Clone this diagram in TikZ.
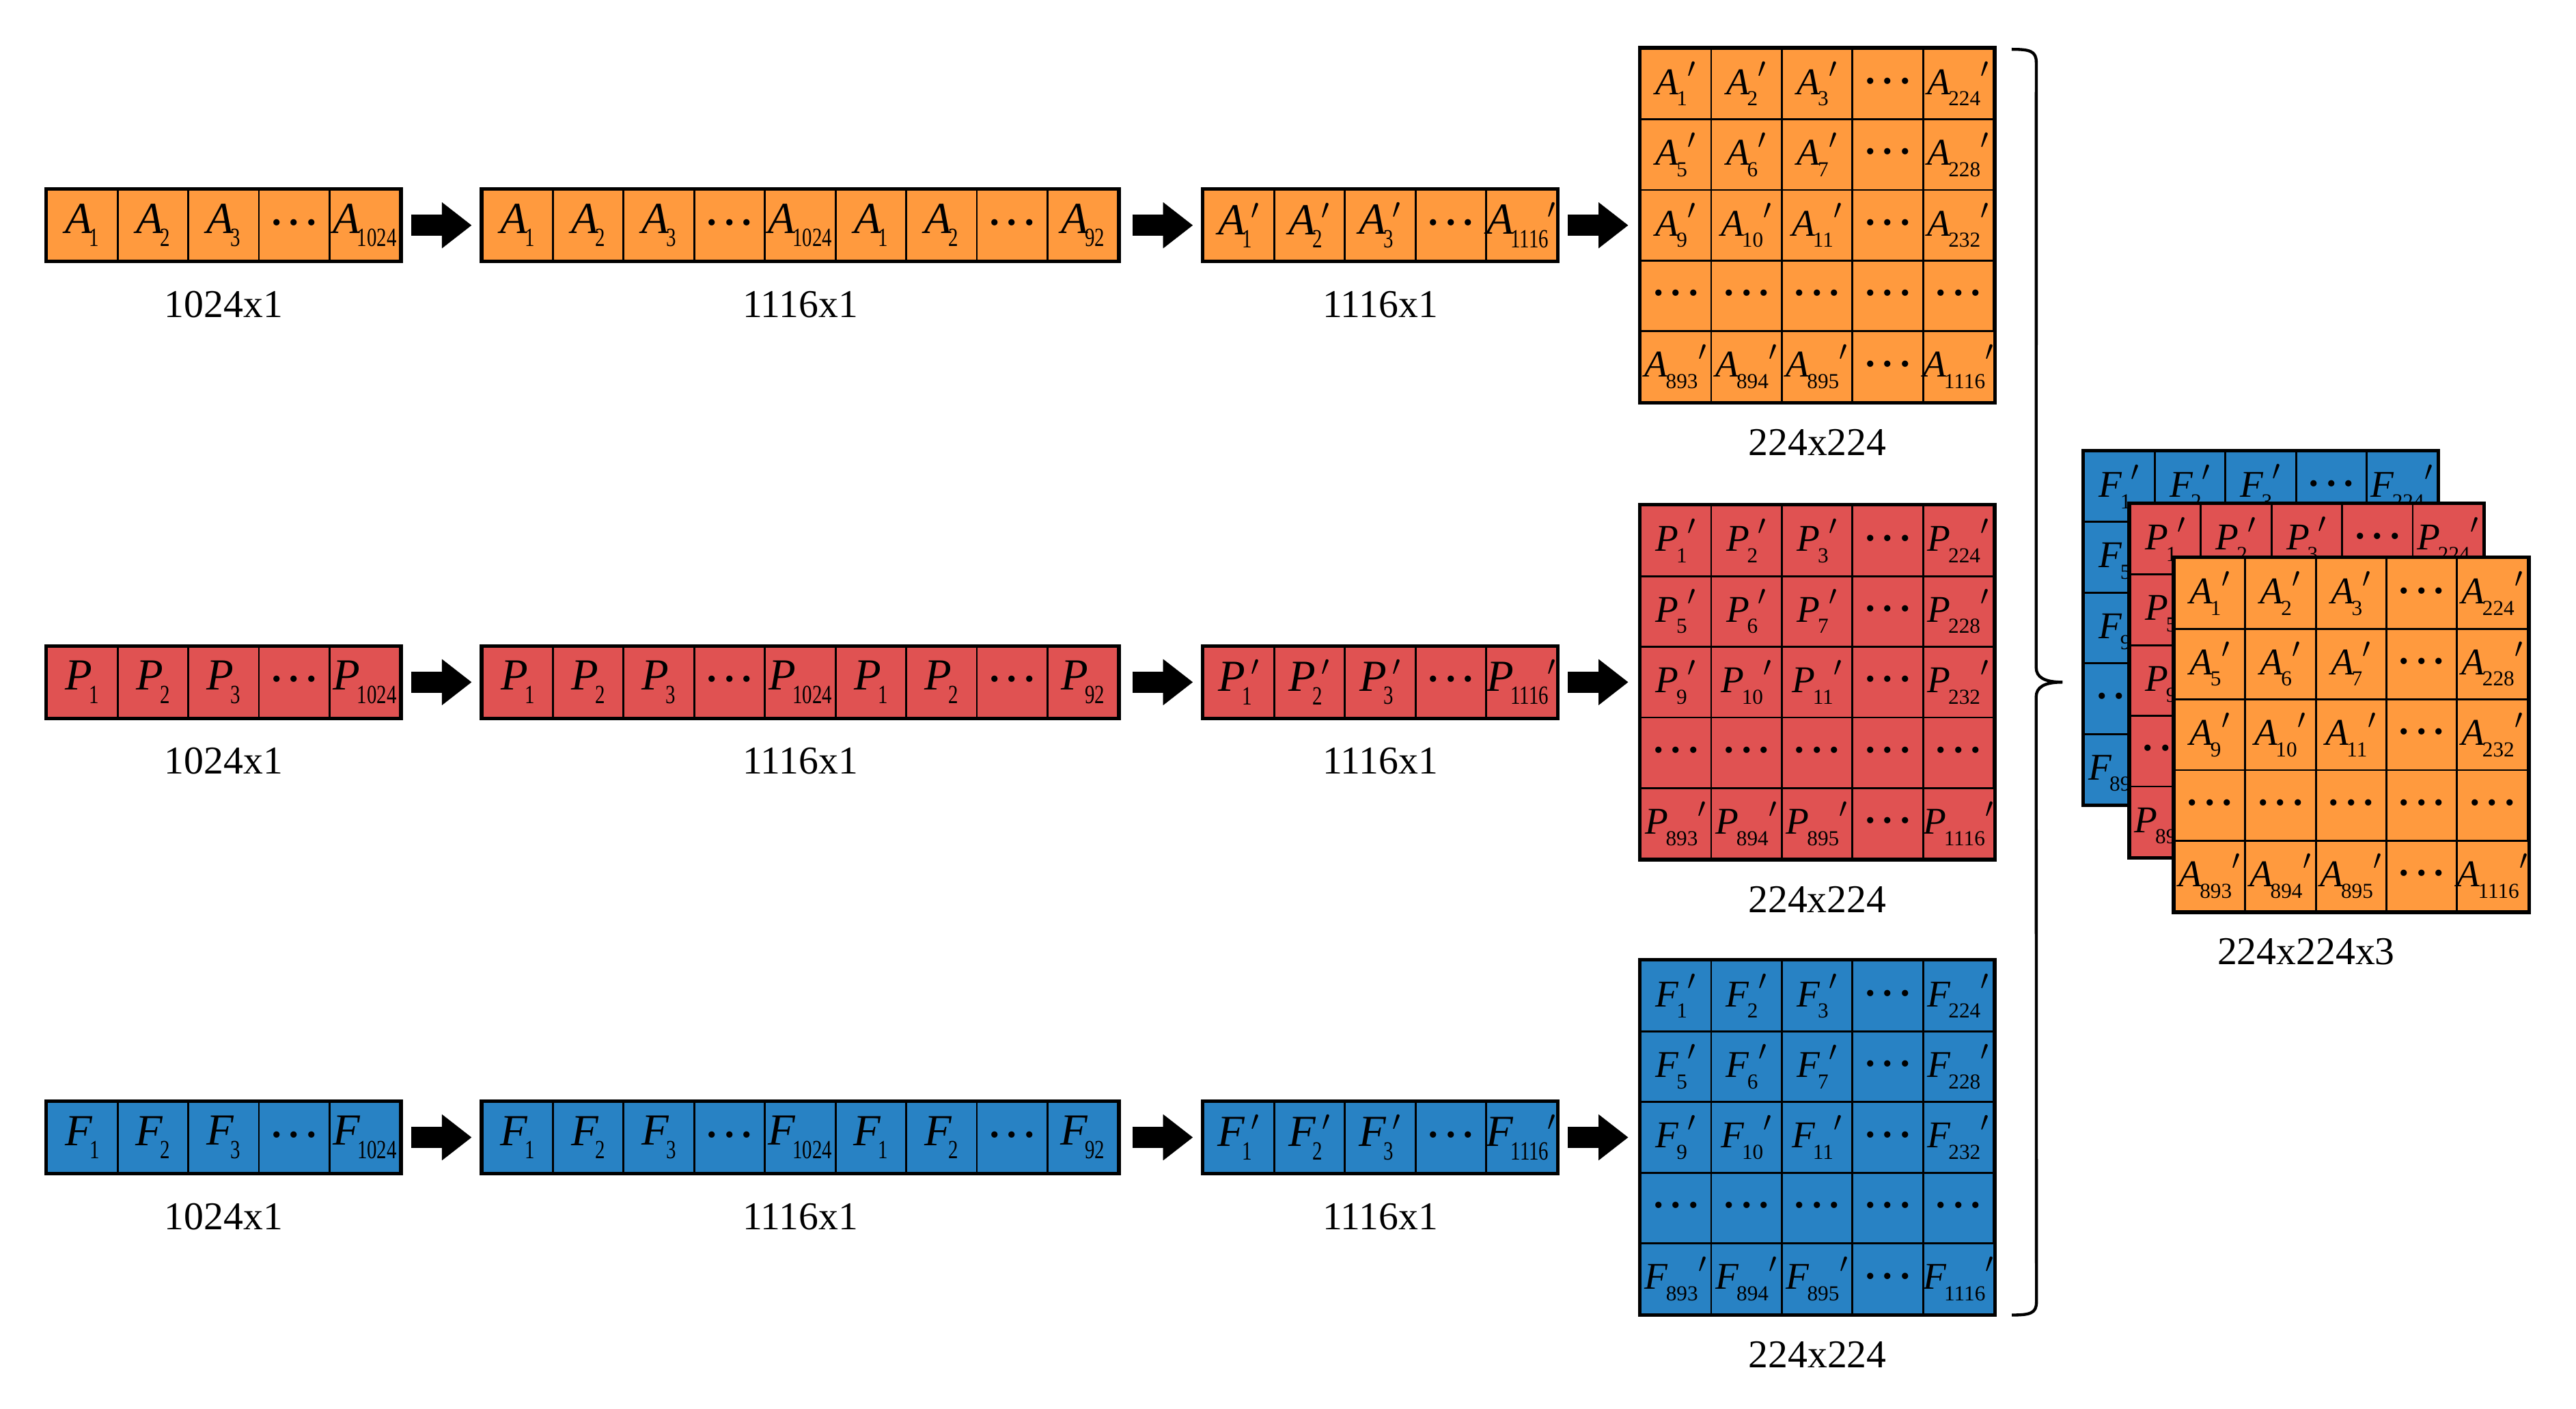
\documentclass[tikz,border=0pt]{standalone}
\usepackage{fontspec}
\usepackage{graphicx}
\setmainfont{Liberation Serif}
\usetikzlibrary{arrows.meta,fit,calc}
\definecolor{cor}{RGB}{255,154,62}
\definecolor{cred}{RGB}{224,82,82}
\definecolor{cblu}{RGB}{40,130,196}
% grid-cell texts
\newcommand\sbs[2]{\textit{#1}\kern-0.06em\raisebox{-0.3em}{\fontsize{13}{13}\selectfont #2}}
\newcommand\prm[2]{\sbs{#1}{#2}\kern0.01em\raisebox{0.05em}{${}^{\prime}$}}
% strip-cell texts (larger, condensed subscripts)
\newcommand\ssb[2]{\textit{#1}\kern-0.07em\raisebox{-0.3em}{\scalebox{0.75}[1]{\fontsize{16}{16}\selectfont #2}}}
\newcommand\spr[2]{\ssb{#1}{#2}\kern-0.02em\raisebox{0.02em}{${}^{\prime}$}}
\newcommand\dts{{\fontsize{16}{16}\selectfont\textbullet\hspace{5pt}\textbullet\hspace{5pt}\textbullet}}
\tikzset{
  cell/.style={draw=black, line width=1.2pt, minimum width=43pt, minimum height=43pt,
    inner sep=0pt, anchor=north west, font=\fontsize{23}{23}\selectfont},
  scell/.style={cell, font=\fontsize{27}{27}\selectfont},
  frm/.style={draw=black, line width=2pt, inner sep=0pt},
  lbl/.style={font=\fontsize{24}{24}\selectfont, inner sep=0pt},
  blk/.style={line width=13pt, -{Triangle[length=18pt, width=28pt, line width=0.1pt]}},
}
\newcommand\mkstrip[6]{%
  \foreach \t [count=\i from 0] in {#5} {\node[scell, fill=#4] (#1-\i) at ({#2+43*\i},#3) {\t};}
  \node[frm, fit=(#1-0)(#1-#6)] (#1) {};
}
\newcommand\gridrow[6]{%
  \foreach \t [count=\i from 0] in {#6} {\node[cell, fill=#5] (#1-#4-\i) at ({#2+43*\i},{#3+43*#4}) {\t};}
}
\newcommand\mkgrid[5]{%
  \gridrow{#1}{#2}{#3}{0}{#4}{{\prm{#5}{1}},{\prm{#5}{2}},{\prm{#5}{3}},{\dts},{\prm{#5}{224}}}
  \gridrow{#1}{#2}{#3}{1}{#4}{{\prm{#5}{5}},{\prm{#5}{6}},{\prm{#5}{7}},{\dts},{\prm{#5}{228}}}
  \gridrow{#1}{#2}{#3}{2}{#4}{{\prm{#5}{9}},{\prm{#5}{10}},{\prm{#5}{11}},{\dts},{\prm{#5}{232}}}
  \gridrow{#1}{#2}{#3}{3}{#4}{{\dts},{\dts},{\dts},{\dts},{\dts}}
  \gridrow{#1}{#2}{#3}{4}{#4}{{\prm{#5}{893}},{\prm{#5}{894}},{\prm{#5}{895}},{\dts},{\prm{#5}{1116}}}
  \node[frm, fit=(#1-0-0)(#1-4-4)] (#1) {};
}
% a grid of the stack that lies behind another: only its top row and left column show
\newcommand\mkback[5]{%
  \gridrow{#1}{#2}{#3}{0}{#4}{{\prm{#5}{1}},{\prm{#5}{2}},{\prm{#5}{3}},{\dts},{\prm{#5}{224}}}
  \node[cell, fill=#4] (#1-1-0) at (#2,{#3+43}) {\prm{#5}{5}};
  \node[cell, fill=#4] (#1-2-0) at (#2,{#3+86}) {\prm{#5}{9}};
  \node[cell, fill=#4] (#1-3-0) at (#2,{#3+129}) {\dts};
  \node[cell, fill=#4] (#1-4-0) at (#2,{#3+172}) {\prm{#5}{893}};
  \node[frm, fit=(#1-0-0)(#1-0-4)(#1-4-0)] (#1) {};
}
\newcommand\mkrow[4]{% prefix, ytop of grid, colour, letter
  \mkstrip{#1s1}{28}{#2+86}{#3}{{\ssb{#4}{1}},{\ssb{#4}{2}},{\ssb{#4}{3}},{\dts},{\ssb{#4}{1024}}}{4}
  \mkstrip{#1s2}{293}{#2+86}{#3}{{\ssb{#4}{1}},{\ssb{#4}{2}},{\ssb{#4}{3}},{\dts},{\ssb{#4}{1024}},{\ssb{#4}{1}},{\ssb{#4}{2}},{\dts},{\ssb{#4}{92}}}{8}
  \mkstrip{#1s3}{732}{#2+86}{#3}{{\spr{#4}{1}},{\spr{#4}{2}},{\spr{#4}{3}},{\dts},{\spr{#4}{1116}}}{4}
  \mkgrid{#1g}{998}{#2}{#3}{#4}
  \node[lbl] (#1l1) at ($(#1s1.south)+(0,25)$) {1024x1};
  \node[lbl] (#1l2) at ($(#1s2.south)+(0,25)$) {1116x1};
  \node[lbl] (#1l3) at ($(#1s3.south)+(0,25)$) {1116x1};
  \node[lbl] (#1l4) at ($(#1g.south)+(0,23)$) {224x224};
  \draw[blk] ($(#1s1.east)+(5,0)$) -- ($(#1s2.west)+(-5,0)$);
  \draw[blk] ($(#1s2.east)+(7,0)$) -- ($(#1s3.west)+(-5,0)$);
  \draw[blk] ($(#1s3.east)+(5,0)$) -- ($(#1g.west)+(-6,0)$);
}
\begin{document}
\begin{tikzpicture}[x=1pt, y=-1pt]
\useasboundingbox (0,0) rectangle (1568,857);
\mkrow{a}{29}{cor}{A}
\mkrow{p}{307}{cred}{P}
\mkrow{f}{584}{cblu}{F}
% brace
\coordinate (bt) at ($(ag.north east)+(9,2)$);
\coordinate (bb) at ($(fg.south east)+(9,-1)$);
\coordinate (bm) at ($(pg.east)+(40,0)$);
\draw[line width=1.8pt]
  (bt) .. controls ($(bt)+(11,0)$) and ($(bt)+(15,1)$) .. ($(bt)+(15,8)$)
  -- ($(bm)+(-16,-9)$) .. controls ($(bm)+(-16,-3)$) and ($(bm)+(-11,0)$) .. (bm)
  .. controls ($(bm)+(-11,0)$) and ($(bm)+(-16,3)$) .. ($(bm)+(-16,9)$)
  -- ($(bb)+(15,-8)$) .. controls ($(bb)+(15,-1)$) and ($(bb)+(11,0)$) .. (bb);
% stack
\mkback{sf}{1268}{274}{cblu}{F}
\mkback{sp}{1296}{306}{cred}{P}
\mkgrid{sa}{1323}{339}{cor}{A}
\coordinate (smid) at ($(sf.west)!0.5!(sa.east)$);
\coordinate (sbot) at ($(sa.south)+(0,23)$);
\node[lbl] (sl) at (smid |- sbot) {224x224x3};
\end{tikzpicture}
\end{document}
